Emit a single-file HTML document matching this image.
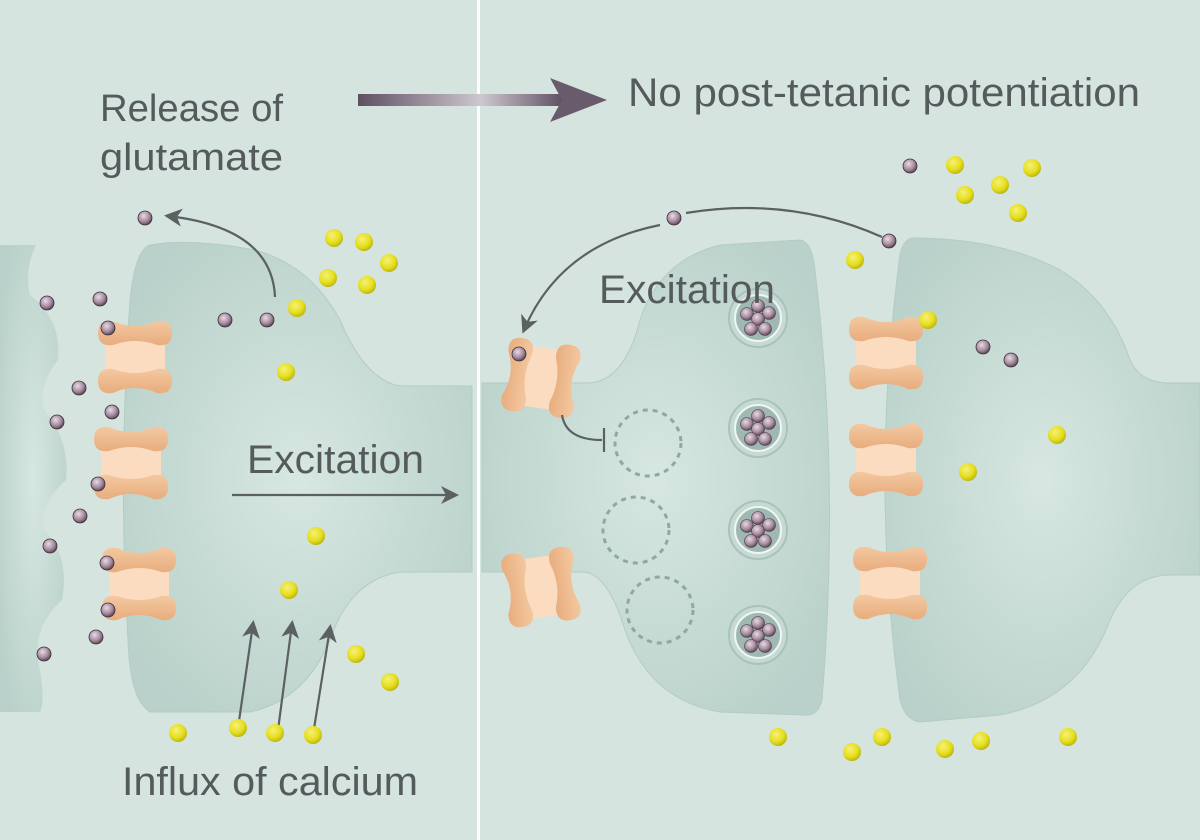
<!DOCTYPE html>
<html><head><meta charset="utf-8"><style>
html,body{margin:0;padding:0;background:#d6e4df}
svg{display:block}
text{font-family:"Liberation Sans",sans-serif;fill:#555b5d}
</style></head><body>
<svg width="1200" height="840" viewBox="0 0 1200 840" xmlns="http://www.w3.org/2000/svg">
<defs>
<radialGradient id="cell" cx="0.5" cy="0.5" r="0.6">
<stop offset="0" stop-color="#d7e7e1"/><stop offset="1" stop-color="#b9d1ca"/></radialGradient>
<radialGradient id="yel" cx="0.4" cy="0.35" r="0.7">
<stop offset="0" stop-color="#f5f07a"/><stop offset="0.6" stop-color="#e6df1c"/><stop offset="1" stop-color="#b8ae10"/></radialGradient>
<radialGradient id="pur" cx="0.4" cy="0.35" r="0.7">
<stop offset="0" stop-color="#e7dbe6"/><stop offset="0.6" stop-color="#a4899c"/><stop offset="1" stop-color="#4b3a48"/></radialGradient>
<linearGradient id="big" x1="0" x2="1">
<stop offset="0" stop-color="#5f4f62"/><stop offset="0.6" stop-color="#cdc7cf"/><stop offset="0.85" stop-color="#8a7d8c"/><stop offset="1" stop-color="#5f4f62"/></linearGradient>
<linearGradient id="lobe" x1="0" y1="0" x2="0" y2="1">
<stop offset="0" stop-color="#f3c8a0"/><stop offset="1" stop-color="#e8ad7e"/></linearGradient>
<g id="rec">
<rect x="-30" y="-18" width="60" height="36" fill="#fbdcc0"/>
<path d="M-37,-24 Q-37,-38 -22,-36 Q0,-26 22,-36 Q37,-38 37,-24 Q37,-10 22,-12 Q0,-20 -22,-12 Q-37,-10 -37,-24Z" fill="url(#lobe)"/>
<path d="M-37,24 Q-37,10 -22,12 Q0,20 22,12 Q37,10 37,24 Q37,38 22,36 Q0,26 -22,36 Q-37,38 -37,24Z" fill="url(#lobe)"/>
</g>
<g id="ves">
<circle r="29" fill="#c6dad3" stroke="#a9c2bb" stroke-width="2"/>
<circle r="23" fill="#9fb9b2" stroke="#eef5f2" stroke-width="2"/>
<g fill="url(#pur)" stroke="#4b3a48" stroke-width="0.6">
<circle cx="0" cy="-12" r="6.5"/><circle cx="-11" cy="-4" r="6.5"/><circle cx="11" cy="-5" r="6.5"/>
<circle cx="0" cy="1" r="6.5"/><circle cx="-7" cy="11" r="6.5"/><circle cx="7" cy="11" r="6.5"/></g>
</g>
<marker id="ahb" markerWidth="18" markerHeight="18" refX="14" refY="9" orient="auto" markerUnits="userSpaceOnUse" viewBox="0 0 18 18">
<path d="M0,0 L18,9 L0,18 L5,9Z" fill="#5b6063"/></marker>
</defs>
<rect width="1200" height="840" fill="#d6e4df"/>
<path d="M0,245 L36,245 Q24,270 30,295 Q62,320 58,360 Q38,385 44,410 Q70,440 66,480 Q38,505 44,530 Q70,555 62,600 Q34,625 38,660 Q46,700 40,712 L0,712Z" fill="url(#cell)"/>
<path d="M150,245 Q190,238 255,250 Q310,265 340,320 Q365,380 400,386 L472,386 L472,572 L400,572 Q350,580 330,640 Q305,700 250,712 L150,712 Q130,700 128,640 Q118,480 130,300 Q135,250 150,245Z" fill="url(#cell)" stroke="#b3ccc4" stroke-width="1"/>
<path d="M482,383 L590,383 Q625,380 640,320 Q660,260 720,245 L800,240 Q812,242 815,270 Q840,480 822,700 Q818,716 805,715 L720,712 Q650,700 625,630 Q608,575 585,572 L482,572Z" fill="url(#cell)" stroke="#b3ccc4" stroke-width="1"/>
<path d="M912,238 Q1000,238 1060,270 Q1110,300 1130,360 Q1140,383 1170,383 L1200,383 L1200,575 L1170,575 Q1130,575 1110,620 Q1080,700 1000,715 L920,722 Q905,720 900,700 Q870,480 900,255 Q903,240 912,238Z" fill="url(#cell)" stroke="#b3ccc4" stroke-width="1"/>
<rect x="477" y="0" width="3" height="840" fill="#ffffff"/>
<use href="#rec" x="135" y="357"/>
<use href="#rec" x="131" y="463"/>
<use href="#rec" x="139" y="584"/>
<use href="#rec" x="886" y="353"/>
<use href="#rec" x="886" y="460"/>
<use href="#rec" x="890" y="583"/>
<use href="#rec" transform="translate(541,378) rotate(98)"/>
<use href="#rec" transform="translate(541,587) rotate(82)"/>
<use href="#ves" x="758" y="318"/>
<use href="#ves" x="758" y="428"/>
<use href="#ves" x="758" y="530"/>
<use href="#ves" x="758" y="635"/>
<g fill="none" stroke="#8fa9a2" stroke-width="3" stroke-dasharray="5,5">
<circle cx="648" cy="443" r="33"/><circle cx="636" cy="530" r="33"/><circle cx="660" cy="610" r="33"/></g>
<g fill="none" stroke="#5b6063" stroke-width="2.2">
<path d="M275,297 Q272,228 168,216" marker-end="url(#ahb)"/>
<path d="M232,495 L455,495" marker-end="url(#ahb)"/>
<path d="M238,728 L253,624" marker-end="url(#ahb)"/>
<path d="M278,730 L292,624" marker-end="url(#ahb)"/>
<path d="M313,735 L330,628" marker-end="url(#ahb)"/>
<path d="M686,213 Q790,196 882,237"/>
<path d="M660,225 Q560,245 524,330" marker-end="url(#ahb)"/>
<path d="M562,415 Q566,440 602,440"/>
<path d="M604,428 L604,452"/>
</g>
<rect x="358" y="94" width="205" height="12" fill="url(#big)"/>
<path d="M550,78 L607,100 L550,122 L562,100Z" fill="#6a5b6c"/>
<g fill="url(#pur)" stroke="#3f313d" stroke-width="0.8">
<circle cx="145" cy="218" r="7"/><circle cx="47" cy="303" r="7"/><circle cx="100" cy="299" r="7"/><circle cx="108" cy="328" r="7"/>
<circle cx="79" cy="388" r="7"/><circle cx="57" cy="422" r="7"/><circle cx="112" cy="412" r="7"/><circle cx="98" cy="484" r="7"/>
<circle cx="80" cy="516" r="7"/><circle cx="50" cy="546" r="7"/><circle cx="107" cy="563" r="7"/><circle cx="108" cy="610" r="7"/>
<circle cx="96" cy="637" r="7"/><circle cx="44" cy="654" r="7"/><circle cx="225" cy="320" r="7"/><circle cx="267" cy="320" r="7"/>
<circle cx="674" cy="218" r="7"/><circle cx="889" cy="241" r="7"/><circle cx="519" cy="354" r="7"/><circle cx="983" cy="347" r="7"/>
<circle cx="1011" cy="360" r="7"/><circle cx="910" cy="166" r="7"/></g>
<g fill="url(#yel)">
<circle cx="334" cy="238" r="9"/><circle cx="364" cy="242" r="9"/><circle cx="389" cy="263" r="9"/><circle cx="328" cy="278" r="9"/>
<circle cx="367" cy="285" r="9"/><circle cx="297" cy="308" r="9"/><circle cx="286" cy="372" r="9"/><circle cx="316" cy="536" r="9"/>
<circle cx="289" cy="590" r="9"/><circle cx="356" cy="654" r="9"/><circle cx="390" cy="682" r="9"/><circle cx="178" cy="733" r="9"/>
<circle cx="238" cy="728" r="9"/><circle cx="275" cy="733" r="9"/><circle cx="313" cy="735" r="9"/>
<circle cx="955" cy="165" r="9"/><circle cx="1032" cy="168" r="9"/><circle cx="965" cy="195" r="9"/><circle cx="1000" cy="185" r="9"/>
<circle cx="1018" cy="213" r="9"/><circle cx="855" cy="260" r="9"/><circle cx="928" cy="320" r="9"/><circle cx="1057" cy="435" r="9"/>
<circle cx="968" cy="472" r="9"/><circle cx="778" cy="737" r="9"/><circle cx="852" cy="752" r="9"/><circle cx="882" cy="737" r="9"/>
<circle cx="945" cy="749" r="9"/><circle cx="981" cy="741" r="9"/><circle cx="1068" cy="737" r="9"/></g>
<text x="100" y="121" font-size="38" textLength="183" lengthAdjust="spacingAndGlyphs">Release of</text>
<text x="100" y="170" font-size="38" textLength="183" lengthAdjust="spacingAndGlyphs">glutamate</text>
<text x="247" y="473" font-size="40" textLength="177" lengthAdjust="spacingAndGlyphs">Excitation</text>
<text x="122" y="795" font-size="40" textLength="296" lengthAdjust="spacingAndGlyphs">Influx of calcium</text>
<text x="628" y="106" font-size="40" textLength="512" lengthAdjust="spacingAndGlyphs">No post-tetanic potentiation</text>
<text x="599" y="303" font-size="40" textLength="176" lengthAdjust="spacingAndGlyphs">Excitation</text>
</svg>
</body></html>
